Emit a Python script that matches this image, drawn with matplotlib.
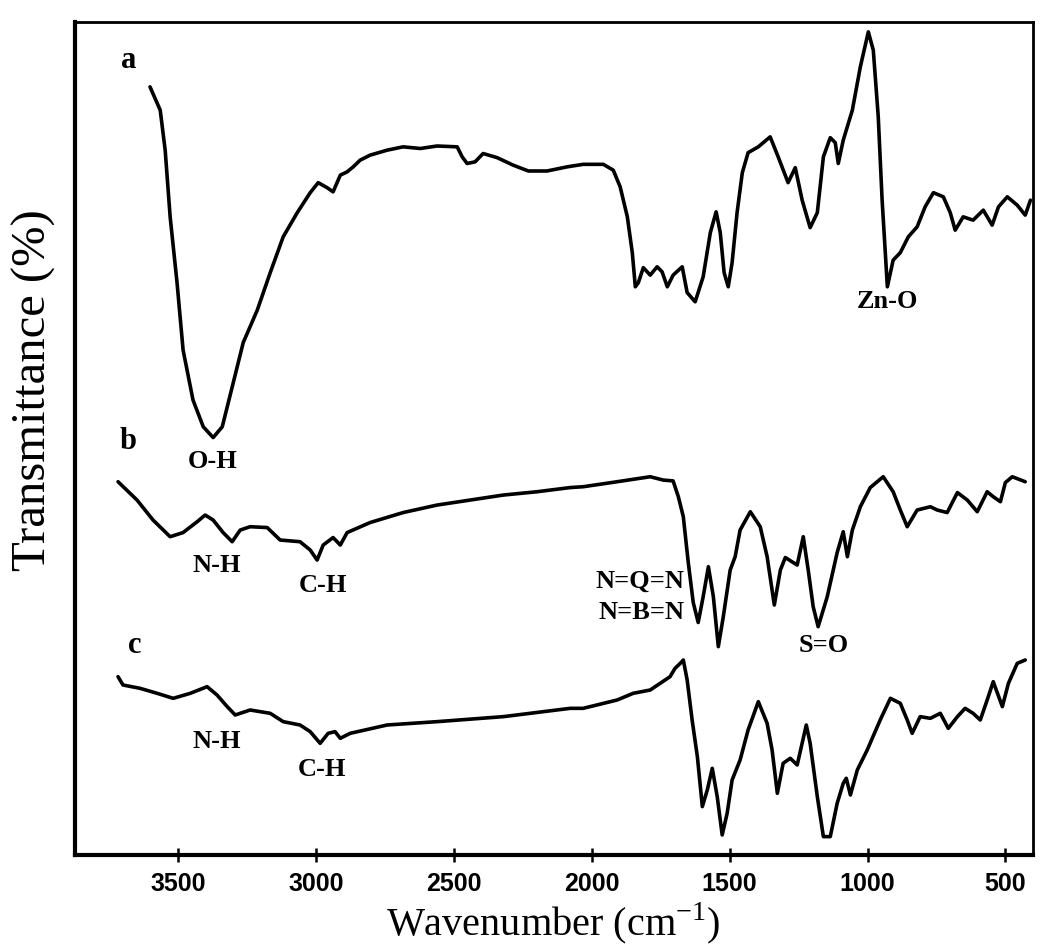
import matplotlib.pyplot as plt
import numpy as np

# Espectros FTIR (unidades arbitrárias de transmitância)
wn_a = [3602, 3565, 3547, 3529, 3504, 3482, 3446, 3409, 3373, 3340, 3300, 3264, 3213, 3166,
        3119, 3068, 3021, 2992, 2960, 2938, 2912, 2887, 2865, 2840, 2804, 2742, 2684, 2622,
        2561, 2488, 2470, 2452, 2423, 2394, 2343, 2285, 2230, 2162, 2089, 2031, 1958, 1922,
        1897, 1871, 1853, 1842, 1831, 1813, 1788, 1763, 1745, 1726, 1705, 1672, 1654, 1625,
        1596, 1570, 1549, 1534, 1520, 1505, 1491, 1473, 1454, 1433, 1396, 1353, 1324, 1288,
        1262, 1237, 1208, 1182, 1160, 1135, 1117, 1106, 1088, 1055, 1026, 997, 979, 961, 947,
        928, 907, 881, 852, 820, 791, 761, 725, 700, 682, 653, 617, 580, 548, 525, 493, 457,
        428, 409]
t_a = [92.2, 89.4, 84.6, 76.6, 68.7, 60.6, 54.6, 51.4, 50.1, 51.4, 56.7, 61.5, 65.4, 69.9,
       74.2, 77.1, 79.5, 80.7, 80.1, 79.6, 81.6, 82.0, 82.6, 83.4, 84.0, 84.6, 85.0, 84.8,
       85.1, 85.0, 83.8, 83.0, 83.2, 84.2, 83.7, 82.8, 82.1, 82.1, 82.6, 82.9, 82.9, 82.2,
       80.2, 76.6, 72.3, 68.2, 68.7, 70.5, 69.6, 70.6, 70.0, 68.2, 69.6, 70.6, 67.5, 66.4,
       69.4, 74.7, 77.2, 74.7, 69.9, 68.2, 71.1, 77.1, 81.9, 84.3, 85.0, 86.2, 83.8, 80.7,
       82.5, 78.6, 75.3, 77.1, 83.8, 86.1, 85.5, 83.0, 85.8, 89.4, 94.6, 98.8, 96.6, 88.6, 78.6,
       68.2, 71.4, 72.3, 74.2, 75.4, 77.8, 79.5, 79.0, 77.1, 75.0, 76.6, 76.2, 77.4, 75.6, 77.8,
       79.0, 78.0, 76.8, 78.6]

wn_b = [3718, 3649, 3591, 3529, 3482, 3431, 3402, 3373, 3337, 3304, 3275, 3239, 3177, 3130,
        3058, 3021, 2996, 2974, 2938, 2912, 2887, 2804, 2684, 2561, 2441, 2321, 2198, 2078,
        2031, 1908, 1788, 1741, 1705, 1686, 1668, 1650, 1632, 1614, 1596, 1577, 1559, 1541,
        1523, 1498, 1480, 1462, 1425, 1389, 1364, 1338, 1316, 1298, 1255, 1233, 1215, 1197,
        1179, 1146, 1110, 1088, 1073, 1055, 1026, 990, 943, 907, 881, 856, 820, 772, 747, 711,
        674, 638, 602, 566, 544, 518, 500, 475, 428]
t_b = [44.8, 42.6, 40.2, 38.2, 38.7, 40.0, 40.8, 40.2, 38.7, 37.6, 39.0, 39.4, 39.3, 37.8,
       37.6, 36.6, 35.4, 37.2, 38.1, 37.2, 38.7, 39.9, 41.1, 42.0, 42.6, 43.2, 43.6, 44.1,
       44.2, 44.8, 45.4, 45.0, 44.9, 43.0, 40.6, 35.1, 30.3, 27.9, 31.0, 34.6, 31.0, 25.0,
       28.6, 34.2, 35.8, 39.0, 41.2, 39.4, 35.8, 30.0, 34.2, 35.7, 34.8, 38.2, 34.2, 29.8,
       27.4, 31.0, 36.3, 38.8, 35.8, 39.0, 41.8, 44.1, 45.4, 43.6, 41.4, 39.4, 41.4, 41.8, 41.4,
       41.1, 43.5, 42.6, 41.2, 43.6, 43.0, 42.4, 44.7, 45.4, 44.8]

wn_c = [3718, 3700, 3638, 3576, 3518, 3456, 3395, 3359, 3322, 3293, 3239, 3166, 3119, 3058,
        3021, 2985, 2956, 2931, 2912, 2876, 2742, 2561, 2321, 2078, 2031, 1908, 1850, 1788,
        1752, 1716, 1698, 1679, 1668, 1654, 1636, 1617, 1599, 1581, 1563, 1545, 1527, 1509,
        1491, 1462, 1433, 1396, 1364, 1346, 1327, 1306, 1280, 1255, 1222, 1208, 1182, 1160,
        1135, 1110, 1088, 1077, 1062, 1037, 1001, 954, 917, 881, 856, 838, 809, 772, 736, 707,
        674, 646, 617, 591, 566, 544, 511, 489, 457, 428]
t_c = [21.4, 20.4, 20.0, 19.4, 18.8, 19.4, 20.2, 19.2, 17.8, 16.8, 17.4, 17.0, 16.0, 15.6,
       14.8, 13.4, 14.6, 14.8, 14.0, 14.6, 15.6, 16.0, 16.6, 17.6, 17.6, 18.6, 19.4, 19.8,
       20.6, 21.4, 22.4, 23.0, 23.4, 21.0, 16.2, 11.8, 5.8, 7.8, 10.4, 7.0, 2.4, 5.0,
       9.0, 11.4, 15.0, 18.4, 15.8, 12.6, 7.4, 11.0, 11.6, 10.8, 15.6, 13.4, 7.0, 2.2,
       2.2, 6.2, 8.6, 9.2, 7.2, 10.2, 12.6, 16.2, 18.8, 18.2, 16.2, 14.6, 16.6, 16.4, 17.0, 15.2,
       16.6, 17.6, 17.0, 16.2, 18.6, 20.8, 17.8, 20.6, 23.0, 23.4]

# Rótulos das bandas: (texto, número de onda, transmitância, alinhamento)
band_labels = [
    ('O-H', 3373, 47.2, 'center'),
    ('Zn-O', 928, 66.4, 'center'),
    ('N-H', 3359, 34.8, 'center'),
    ('C-H', 2974, 32.4, 'center'),
    ('N=Q=N', 1664, 32.8, 'right'),
    ('N=B=N', 1664, 29.1, 'right'),
    ('S=O', 1160, 25.2, 'center'),
    ('N-H', 3359, 13.6, 'center'),
    ('C-H', 2978, 10.2, 'center'),
]
curve_letters = [('a', 3681, 95.4), ('b', 3681, 49.6), ('c', 3656, 25.2)]
x_ticks = [3500, 3000, 2500, 2000, 1500, 1000, 500]

serif = ['Liberation Serif', 'DejaVu Serif']
sans = ['Liberation Sans', 'DejaVu Sans']

fig = plt.figure(figsize=(10.55, 9.51), dpi=100)
ax = fig.add_axes([0.0711, 0.101, 0.908, 0.876])

for wn, t in [(wn_a, t_a), (wn_b, t_b), (wn_c, t_c)]:
    ax.plot(wn, t, color='black', lw=2.6, solid_joinstyle='round', solid_capstyle='round')

for txt, x, y, ha in band_labels:
    ax.text(x, y, txt, ha=ha, va='center', fontsize=19, fontweight='bold', family=serif)
for txt, x, y in curve_letters:
    ax.text(x, y, txt, ha='center', va='center', fontsize=22, fontweight='bold', family=serif)

ax.set_xlim(3874, 400)
ax.set_ylim(0, 100)
ax.set_xticks(x_ticks)
ax.set_xticklabels([str(v) for v in x_ticks], fontsize=18, fontweight='bold', family=sans)
ax.set_yticks([])
ax.tick_params(axis='x', direction='inout', length=10, width=1.8, pad=7)

for side in ['left', 'bottom']:
    ax.spines[side].set_linewidth(3)
for side in ['top', 'right']:
    ax.spines[side].set_linewidth(2)

ax.set_xlabel(r'Wavenumber (cm$^{\mathregular{-1}}$)', fontsize=29, family=serif)
ax.xaxis.set_label_coords(0.499, -0.054)
ax.set_ylabel('Transmittance (%)', fontsize=35, family=serif)
ax.yaxis.set_label_coords(-0.02, 0.558)

plt.savefig('out.png', dpi=100)
